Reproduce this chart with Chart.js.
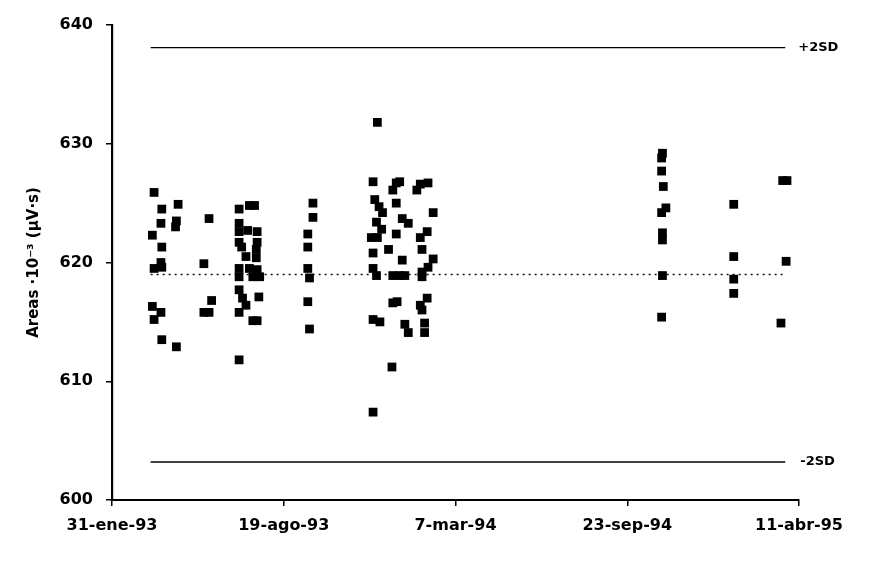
<!DOCTYPE html>
<html>
<head>
<meta charset="utf-8">
<script src="https://cdn.jsdelivr.net/npm/chart.js@4.4.0/dist/chart.umd.min.js"></script>
<style>
  html, body { margin: 0; padding: 0; background: #fff; }
  #wrap { width: 878px; height: 561px; position: relative; }
</style>
</head>
<body>
<div id="wrap"><canvas id="c"></canvas></div>
<script>
// x values: days since 31-ene-93
const tickLabels = ['31-ene-93', '19-ago-93', '7-mar-94', '23-sep-94', '11-abr-95'];
const dayOffsets = [
  49, 58, 57, 47, 58, 57, 49, 58, 47, 57, 49, 58, 75, 77, 75, 74,
  113, 107, 116, 113, 107,
  148, 160, 166, 148, 148, 158, 169, 148, 169, 151, 168, 156, 168, 148, 160, 169, 148, 164, 172, 148, 152, 171, 156, 148, 164, 169, 148,
  234, 234, 228, 228, 228, 230, 228, 230,
  309, 304, 331, 335, 327, 359, 368, 355, 306, 331, 311, 315, 374, 338, 345, 308, 314, 302, 309, 331, 367, 359,
  304, 322, 361, 338, 374, 304, 368, 361, 327, 335, 341, 361, 308, 327, 332, 367, 359, 361, 304, 312, 341, 345, 364, 364, 326, 304,
  641, 640, 640, 642, 645, 640, 641, 641, 641, 640,
  724, 724, 724, 724,
  781, 786, 785, 779
];
const areaValues = [
  625.9, 624.5, 623.3, 622.3, 621.3, 620.0, 619.5, 619.6, 616.3, 615.8, 615.2, 613.5, 612.9, 624.9, 623.5, 623.0,
  623.7, 619.9, 616.8, 615.8, 615.8,
  624.5, 624.8, 624.8, 623.3, 622.6, 622.7, 622.6, 621.7, 621.7, 621.3, 621.1, 620.5, 620.4, 619.5, 619.5, 619.4, 618.8, 618.8, 618.8, 617.7, 617.0, 617.1, 616.4, 615.8, 615.1, 615.1, 611.8,
  625.0, 623.8, 622.4, 621.3, 619.5, 618.7, 616.7, 614.4,
  631.8, 626.8, 626.7, 626.8, 626.1, 626.6, 626.7, 626.1, 625.3, 625.0, 624.7, 624.2, 624.2, 623.7, 623.3, 623.4, 622.8, 622.1, 622.1, 622.4, 622.6, 622.1,
  620.8, 621.1, 621.1, 620.2, 620.3, 619.5, 619.6, 619.2, 618.9, 618.9, 618.9, 618.8, 618.9, 616.6, 616.7, 617.0, 616.4, 616.0, 615.2, 615.0, 614.8, 614.1, 614.9, 614.1, 611.2, 607.4,
  629.2, 628.8, 627.7, 626.4, 624.6, 624.2, 622.5, 621.9, 618.9, 615.4,
  624.9, 620.5, 618.6, 617.4,
  626.9, 626.9, 620.1, 614.9
];
const refSpan = [45, 784];          // days covered by reference lines
const plus2SD = 638.1;
const minus2SD = 603.2;
const meanValue = 619.0;
const refNames = ['+2SD', '-2SD'];

const points = dayOffsets.map((d, i) => ({ x: d, y: areaValues[i] }));
const lineOf = v => refSpan.map(d => ({ x: d, y: v }));

const sdLabels = {
  id: 'sdLabels',
  afterDatasetsDraw(chart) {
    const { ctx, scales: { x, y } } = chart;
    ctx.save();
    ctx.fillStyle = '#000';
    ctx.font = 'bold 13px "DejaVu Sans"';
    ctx.textAlign = 'left';
    ctx.textBaseline = 'middle';
    ctx.fillText(refNames[0], x.getPixelForValue(refSpan[1]) + 13, y.getPixelForValue(plus2SD));
    ctx.fillText(refNames[1], x.getPixelForValue(refSpan[1]) + 15, y.getPixelForValue(minus2SD));
    ctx.restore();
  }
};

new Chart(document.getElementById('c'), {
  type: 'scatter',
  data: {
    datasets: [
      { data: points, pointStyle: 'rect', pointRadius: 6.2, backgroundColor: '#000', borderColor: '#000', borderWidth: 0, order: 0 },
      { type: 'line', data: lineOf(plus2SD), borderColor: '#000', borderWidth: 1.3, pointRadius: 0, order: 1 },
      { type: 'line', data: lineOf(minus2SD), borderColor: '#000', borderWidth: 1.3, pointRadius: 0, order: 1 },
      { type: 'line', data: lineOf(meanValue), borderColor: '#111', borderWidth: 1.5, borderDash: [2, 4], pointRadius: 0, order: 1 }
    ]
  },
  options: {
    responsive: true,
    maintainAspectRatio: false,
    animation: false,
    layout: { padding: { top: 25, right: 79, bottom: 0, left: 0 } },
    plugins: { legend: { display: false }, tooltip: { enabled: false } },
    scales: {
      x: {
        type: 'linear', min: 0, max: 800,
        afterBuildTicks(s) { s.ticks = [0, 200, 400, 600, 800].map(v => ({ value: v })); },
        afterFit(s) { s.height = 61; },
        ticks: {
          color: '#000', padding: 10, maxRotation: 0,
          font: { family: 'DejaVu Sans', size: 16, weight: 'bold' },
          callback: (v) => tickLabels[Math.round(v / 200)]
        },
        grid: { drawOnChartArea: false, drawTicks: true, tickLength: 6, color: '#000', lineWidth: 1.5 },
        border: { display: true, color: '#000', width: 2 }
      },
      y: {
        type: 'linear', min: 600, max: 640,
        afterFit(s) { s.width = 112; },
        ticks: {
          stepSize: 10, color: '#000', padding: 13,
          font: { family: 'DejaVu Sans', size: 16, weight: 'bold' }
        },
        grid: { drawOnChartArea: false, drawTicks: true, tickLength: 6, color: '#000', lineWidth: 1.5 },
        border: { display: true, color: '#000', width: 2.2 },
        title: {
          display: true, text: 'Areas ·10⁻³ (µV·s)', color: '#000',
          font: { family: 'DejaVu Sans', size: 15, weight: 'bold' },
          padding: { top: 25, bottom: 0 }
        }
      }
    }
  },
  plugins: [sdLabels]
});
</script>
</body>
</html>
